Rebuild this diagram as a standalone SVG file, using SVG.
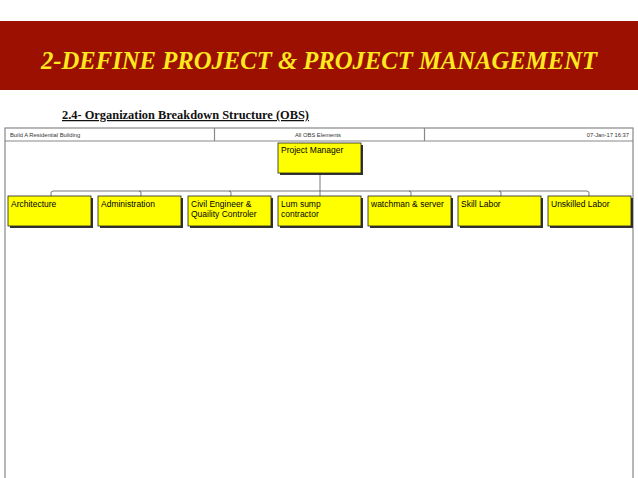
<svg xmlns="http://www.w3.org/2000/svg" width="638" height="478" viewBox="0 0 638 478">
<style>
.title{font-family:"Liberation Serif",serif;font-weight:bold;font-style:italic;font-size:26px;fill:#FFE81F}
.sub{font-family:"Liberation Serif",serif;font-weight:bold;font-size:12.5px;fill:#111;text-decoration:underline}
.hdr{font-family:"Liberation Sans",Arial,sans-serif;font-size:5.8px;fill:#333}
.frame{fill:none;stroke:#888;stroke-width:1.2}
.box{fill:#FFFF00;stroke:#222;stroke-width:0.8}
.shadow{fill:#333}
.lbl{font-family:"Liberation Sans",Arial,sans-serif;font-size:8.5px;fill:#000}
.conn{fill:none;stroke:#555;stroke-width:0.8}
</style>
<rect width="638" height="478" fill="#fff"/>
<rect x="0" y="21" width="638" height="69" fill="#9B1000"/>
<text class="title" x="41" y="69" textLength="556" lengthAdjust="spacingAndGlyphs">2-DEFINE PROJECT &amp; PROJECT MANAGEMENT</text>
<text class="sub" x="62" y="119" textLength="247" lengthAdjust="spacingAndGlyphs">2.4- Organization Breakdown Structure (OBS)</text>
<rect class="frame" x="5" y="128" width="628" height="360"/>
<line class="frame" x1="5" y1="141" x2="633" y2="141"/>
<line class="frame" x1="214.5" y1="128" x2="214.5" y2="141"/>
<line class="frame" x1="424.5" y1="128" x2="424.5" y2="141"/>
<text class="hdr" x="10" y="137">Build A Residential Building</text>
<text class="hdr" x="318" y="137" text-anchor="middle">All OBS Elements</text>
<text class="hdr" x="629" y="137" text-anchor="end">07-Jan-17 16:37</text>
<g id="connectors">
<line class="conn" x1="320" y1="173" x2="320" y2="196"/>
<path class="conn" d="M51,196 v-3 q0,-2 2,-2 H587 q2,0 2,2 v3"/>
<path class="conn" d="M139,191 q2,0 2,2 v3 M229,191 q2,0 2,2 v3 M409,191 q2,0 2,2 v3 M499,191 q2,0 2,2 v3"/>
</g>
<g id="project-manager">
<rect class="shadow" x="280" y="145" width="83" height="30"/>
<rect class="box" x="278" y="143" width="83" height="30"/>
<text class="lbl" x="281" y="153">Project Manager</text>
</g>
<g id="architecture">
<rect class="shadow" x="10" y="198" width="83" height="30"/>
<rect class="box" x="8" y="196" width="83" height="30"/>
<text class="lbl" x="11" y="207">Architecture</text>
</g>
<g id="administration">
<rect class="shadow" x="100" y="198" width="83" height="30"/>
<rect class="box" x="98" y="196" width="83" height="30"/>
<text class="lbl" x="101" y="207">Administration</text>
</g>
<g id="civil-engineer">
<rect class="shadow" x="190" y="198" width="83" height="30"/>
<rect class="box" x="188" y="196" width="83" height="30"/>
<text class="lbl" x="191" y="207">Civil Engineer &amp;</text>
<text class="lbl" x="191" y="217">Quaility Controler</text>
</g>
<g id="lum-sump">
<rect class="shadow" x="280" y="198" width="83" height="30"/>
<rect class="box" x="278" y="196" width="83" height="30"/>
<text class="lbl" x="281" y="207">Lum sump</text>
<text class="lbl" x="281" y="217">contractor</text>
</g>
<g id="watchman">
<rect class="shadow" x="370" y="198" width="83" height="30"/>
<rect class="box" x="368" y="196" width="83" height="30"/>
<text class="lbl" x="371" y="207">watchman &amp; server</text>
</g>
<g id="skill-labor">
<rect class="shadow" x="460" y="198" width="83" height="30"/>
<rect class="box" x="458" y="196" width="83" height="30"/>
<text class="lbl" x="461" y="207">Skill Labor</text>
</g>
<g id="unskilled-labor">
<rect class="shadow" x="550" y="198" width="83" height="30"/>
<rect class="box" x="548" y="196" width="83" height="30"/>
<text class="lbl" x="551" y="207">Unskilled Labor</text>
</g>
</svg>
